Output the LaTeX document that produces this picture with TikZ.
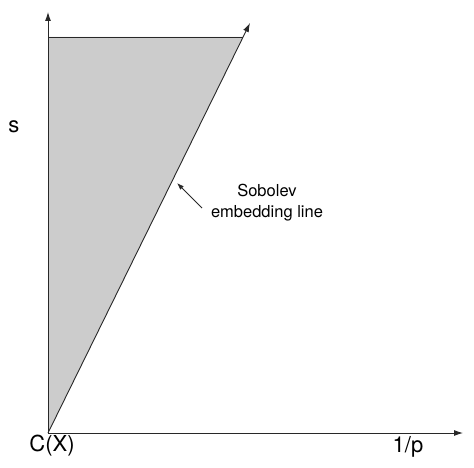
\documentclass[tikz,border=0pt]{standalone}
\usepackage{fontspec}
\setmainfont{TeX Gyre Heros}
\usetikzlibrary{arrows.meta}
\definecolor{regiongray}{RGB}{204,204,204}
\definecolor{linegray}{RGB}{40,40,40}
\tikzset{
  axis/.style={draw=linegray, line width=0.9pt, -{Latex[length=9pt,width=6pt]}},
  axislabel/.style={font=\fontsize{22}{24}\selectfont},
  note/.style={font=\fontsize{16.5}{21}\selectfont, align=center}
}
\begin{document}
\begin{tikzpicture}[x=1pt, y=1pt]
        \def \ymax {396}   % height of the top edge of the region
        \def \xtop {195}   % where the embedding line meets the top edge
        \useasboundingbox (-48,-34) rectangle (426,433);
        % points
        \coordinate (origin) at (0,0);
        \coordinate (ytip) at (0,421);
        \coordinate (xtip) at (415,0);
        \coordinate (topleft) at (0,\ymax);
        \coordinate (topright) at (\xtop,\ymax);
        \coordinate (linetip) at (202,410);
        % shaded region
        \fill[regiongray] (origin) -- (topleft) -- (topright) -- cycle;
        \draw[linegray, line width=0.9pt] (topleft) -- (topright);
        % axes
        \draw[axis] (origin) -- (ytip);
        \draw[axis] (origin) -- (xtip);
        % Sobolev embedding line
        \draw[axis] (origin) -- (linetip);
        % labels
        \node[axislabel] (slabel) at (-34,306) {s};
        \node[axislabel] (cxlabel) at (4,-13) {C(X)};
        \node[axislabel] (plabel) at (360,-14) {1/p};
        \node[note] (sobolev) at (219,230) {Sobolev\\embedding line};
        % pointer to the line
        \coordinate (tail) at (154,225);
        \coordinate (tip) at (129,250);
        \draw[linegray, line width=0.8pt, -{Latex[length=7pt,width=5pt]}] (tail) -- (tip);
\end{tikzpicture}
\end{document}
